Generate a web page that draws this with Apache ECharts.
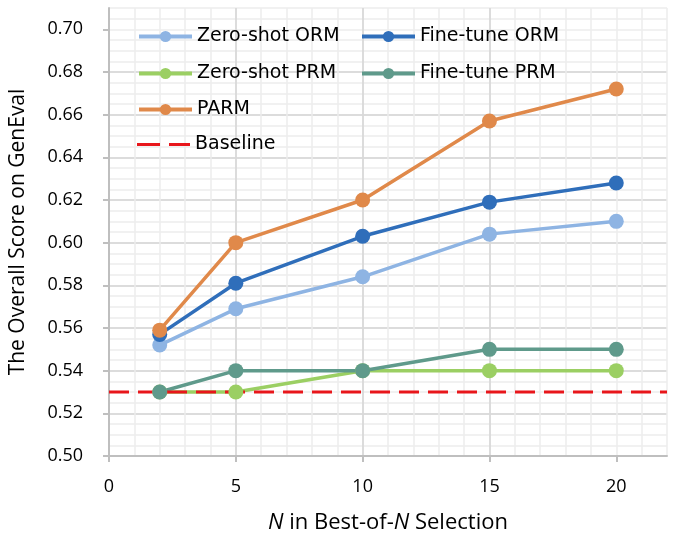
<!DOCTYPE html>
<html><head><meta charset="utf-8">
<script src="https://cdn.jsdelivr.net/npm/echarts@6/dist/echarts.min.js"></script>
<style>html,body{margin:0;padding:0;background:#fff}#c{width:675px;height:536px}</style>
</head><body><div id="c"></div>
<script>
// ---- data ----
const nValues = [2, 5, 10, 15, 20];
const zeroShotORM = [0.552, 0.569, 0.584, 0.604, 0.610];
const fineTuneORM = [0.557, 0.581, 0.603, 0.619, 0.628];
const zeroShotPRM = [0.530, 0.530, 0.540, 0.540, 0.540];
const fineTunePRM = [0.530, 0.540, 0.540, 0.550, 0.550];
const parm = [0.559, 0.600, 0.620, 0.657, 0.672];
const baselineValue = 0.53;
const baselineRange = [0, 22];
const xTickValues = [0, 5, 10, 15, 20];
const yTickValues = [0.50, 0.52, 0.54, 0.56, 0.58, 0.60, 0.62, 0.64, 0.66, 0.68, 0.70];
const seriesNames = ['Zero-shot ORM', 'Fine-tune ORM', 'Zero-shot PRM', 'Fine-tune PRM', 'PARM', 'Baseline'];

// ---- chart ----
const chart = echarts.init(document.getElementById('c'), null, {renderer: 'canvas'});
const pair = ys => nValues.map((n, i) => [n, ys[i]]);
const legendFont = "'Comic Sans MS', 'DejaVu Sans', sans-serif";
const axisFont = "'Open Sans', sans-serif";
const colors = ['#8EB4E3', '#2F6EBA', '#9BCF63', '#5F9A8B', '#E0894A', '#E8161B'];

function leg(item, left, cy, h) {
  return {
    data: [item], left: left, top: cy - 8, padding: 0, itemWidth: 53, itemHeight: h || 14, itemGap: 0,
    selectedMode: false,
    lineStyle: {width: 4},
    textStyle: {fontFamily: legendFont, fontSize: 19, color: '#000'}
  };
}
function lineSeries(name, ys, color) {
  return {
    name: name, type: 'line', xAxisIndex: 1, yAxisIndex: 1, data: pair(ys),
    symbol: 'circle', symbolSize: 15,
    lineStyle: {color: color, width: 3.5},
    itemStyle: {color: color},
    emphasis: {disabled: true}
  };
}

const option = {
  animation: false,
  backgroundColor: '#fff',
  grid: {left: 109, right: 8, top: 8, bottom: 80, outerBoundsMode: 'none', containLabel: false},
  legend: [
    leg(seriesNames[0], 137, 35), leg(seriesNames[1], 360, 35),
    leg(seriesNames[2], 137, 72), leg(seriesNames[3], 360, 72),
    leg(seriesNames[4], 137, 108),
    leg({name: seriesNames[5], icon: 'path://M0,0h23v3h-23zM32,0h21v3h-21z'}, 137, 143, 3)
  ],
  xAxis: [
    {type: 'value', min: 0, max: 22, interval: 1, position: 'bottom',
     axisLine: {show: false}, axisTick: {show: false}, axisLabel: {show: false},
     splitLine: {show: true, lineStyle: {color: '#EDEDED', width: 1.5}}},
    {type: 'value', min: 0, max: 22, interval: 5, position: 'bottom',
     axisLine: {show: true, lineStyle: {color: '#BFBFBF', width: 2}},
     axisTick: {show: true, length: 6, customValues: xTickValues, lineStyle: {color: '#BFBFBF', width: 2}},
     axisLabel: {customValues: xTickValues, margin: 22,
                 fontFamily: axisFont, fontSize: 18, color: '#000'},
     splitLine: {show: true, showMaxLine: false, lineStyle: {color: '#D4D4D4', width: 1.5}},
     name: '{i|N} in Best-of-{i|N} Selection', nameLocation: 'middle', nameGap: 56,
     nameTextStyle: {fontFamily: axisFont, fontSize: 22, color: '#000',
       rich: {i: {fontStyle: 'italic', fontFamily: axisFont, fontSize: 22, color: '#000'}}}}
  ],
  yAxis: [
    {type: 'value', min: 0.5, max: 0.71, interval: 0.005, position: 'left',
     axisLine: {show: false}, axisTick: {show: false}, axisLabel: {show: false},
     splitLine: {show: true, lineStyle: {color: '#EDEDED', width: 1.5}}},
    {type: 'value', min: 0.5, max: 0.71, interval: 0.02, position: 'left',
     axisLine: {show: true, lineStyle: {color: '#BFBFBF', width: 2}},
     axisTick: {show: true, length: 6, customValues: yTickValues, lineStyle: {color: '#BFBFBF', width: 2}},
     axisLabel: {customValues: yTickValues, margin: 26,
                 fontFamily: axisFont, fontSize: 18, color: '#000',
                 formatter: v => v.toFixed(2)},
     splitLine: {show: true, showMaxLine: false, lineStyle: {color: '#D4D4D4', width: 1.5}},
     name: 'The Overall Score on GenEval', nameLocation: 'middle', nameGap: 80,
     nameTextStyle: {fontFamily: axisFont, fontSize: 21, color: '#000'}}
  ],
  series: [
    lineSeries(seriesNames[0], zeroShotORM, colors[0]),
    lineSeries(seriesNames[1], fineTuneORM, colors[1]),
    lineSeries(seriesNames[2], zeroShotPRM, colors[2]),
    lineSeries(seriesNames[3], fineTunePRM, colors[3]),
    lineSeries(seriesNames[4], parm, colors[4]),
    {name: seriesNames[5], type: 'line', xAxisIndex: 1, yAxisIndex: 1,
     data: baselineRange.map(x => [x, baselineValue]),
     symbol: 'none', lineStyle: {color: colors[5], width: 3, type: [20, 9]},
     itemStyle: {color: colors[5]}, emphasis: {disabled: true}}
  ]
};
chart.setOption(option);
</script>
</body></html>
